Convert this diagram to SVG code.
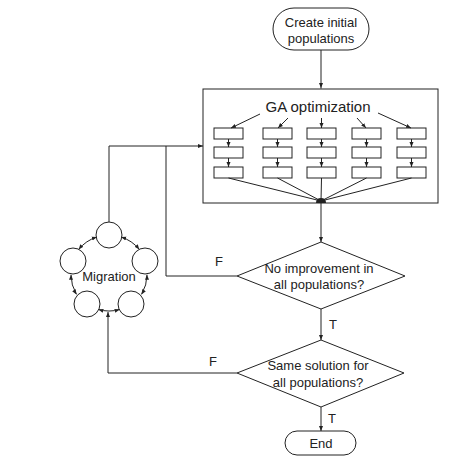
<svg xmlns="http://www.w3.org/2000/svg" width="474" height="474" viewBox="0 0 474 474">
<defs>
<marker id="ah" viewBox="0 0 10 10" refX="10" refY="5" markerWidth="5" markerHeight="5" orient="auto-start-reverse" markerUnits="userSpaceOnUse">
<path d="M0,1 L10,5 L0,9 Z" fill="#222"/>
</marker>
<style>
.s{fill:none;stroke:#222;stroke-width:1}
.b{fill:#fff;stroke:#222;stroke-width:1}
.t{font-family:"Liberation Sans",Arial,sans-serif;font-size:13px;fill:#222;text-anchor:middle}
.a{fill:none;stroke:#222;stroke-width:1;marker-end:url(#ah)}
.d{fill:none;stroke:#222;stroke-width:1;marker-start:url(#ah);marker-end:url(#ah)}
</style>
</defs>
<rect width="474" height="474" fill="#fff"/>

<g id="connectors">
<line class="a" x1="321" y1="50" x2="321" y2="88"/>
<path class="s" d="M321,89 L311,93 M321,89 L316,94 M321,89 L326,94 M321,89 L331,93"/>
<line class="s" x1="321" y1="203" x2="321" y2="236"/>
<line class="a" x1="321" y1="236" x2="321" y2="242"/>
<line class="a" x1="321" y1="309" x2="321" y2="340"/>
<line class="a" x1="321" y1="407" x2="321" y2="431"/>
<polyline class="s" points="237,276 166,276 166,146"/>
<polyline class="a" points="109,222 109,146 203,146"/>
<polyline class="a" points="237,373 108,373 108,312"/>
</g>

<g id="start">
<rect class="b" x="273" y="8" width="96" height="42" rx="21"/>
<text class="t" x="321" y="27">Create initial</text>
<text class="t" x="321" y="43">populations</text>
</g>

<g id="ga">
<rect class="b" x="203" y="89" width="235" height="114"/>
<text class="t" x="318" y="112" style="font-size:15px">GA optimization</text>
<g class="b">
<rect x="214" y="128" width="29" height="11"/><rect x="214" y="147" width="29" height="11"/><rect x="214" y="167" width="29" height="11"/>
<rect x="263" y="128" width="29" height="11"/><rect x="263" y="147" width="29" height="11"/><rect x="263" y="167" width="29" height="11"/>
<rect x="307" y="128" width="29" height="11"/><rect x="307" y="147" width="29" height="11"/><rect x="307" y="167" width="29" height="11"/>
<rect x="352" y="128" width="29" height="11"/><rect x="352" y="147" width="29" height="11"/><rect x="352" y="167" width="29" height="11"/>
<rect x="397" y="128" width="29" height="11"/><rect x="397" y="147" width="29" height="11"/><rect x="397" y="167" width="29" height="11"/>
</g>
<g class="a">
<line x1="260" y1="114" x2="231" y2="128"/>
<line x1="288" y1="118" x2="278" y2="128"/>
<line x1="321.5" y1="118" x2="321.5" y2="128"/>
<line x1="357" y1="118" x2="366" y2="128"/>
<line x1="378" y1="113" x2="411" y2="128"/>
<line x1="228.5" y1="139" x2="228.5" y2="147"/><line x1="228.5" y1="158" x2="228.5" y2="167"/>
<line x1="277.5" y1="139" x2="277.5" y2="147"/><line x1="277.5" y1="158" x2="277.5" y2="167"/>
<line x1="321.5" y1="139" x2="321.5" y2="147"/><line x1="321.5" y1="158" x2="321.5" y2="167"/>
<line x1="366.5" y1="139" x2="366.5" y2="147"/><line x1="366.5" y1="158" x2="366.5" y2="167"/>
<line x1="411.5" y1="139" x2="411.5" y2="147"/><line x1="411.5" y1="158" x2="411.5" y2="167"/>
</g>
<g class="s">
<line x1="228.5" y1="178" x2="321" y2="201"/>
<line x1="277.5" y1="178" x2="321" y2="201"/>
<line x1="321.5" y1="178" x2="321" y2="201"/>
<line x1="366.5" y1="178" x2="321" y2="201"/>
<line x1="411.5" y1="178" x2="321" y2="201"/>
</g>
<path d="M316,203 Q316,198 321,198 Q326,198 326,203 Z" fill="#222"/>
</g>

<g id="decision1">
<polygon class="b" points="321,242 405,276 321,309 237,276"/>
<text class="t" x="319" y="273">No improvement in</text>
<text class="t" x="319" y="289">all populations?</text>
<text class="t" x="219" y="266">F</text>
<text class="t" x="333" y="329">T</text>
</g>

<g id="decision2">
<polygon class="b" points="321,340 404,373 321,407 237,373"/>
<text class="t" x="318" y="370">Same solution for</text>
<text class="t" x="318" y="387">all populations?</text>
<text class="t" x="213" y="366">F</text>
<text class="t" x="332" y="423">T</text>
</g>

<g id="end">
<rect class="b" x="285" y="431" width="71" height="24" rx="12"/>
<text class="t" x="321" y="448">End</text>
</g>

<g id="migration">
<circle class="b" cx="109" cy="235" r="13"/>
<circle class="b" cx="73" cy="261" r="13"/>
<circle class="b" cx="145" cy="261" r="13"/>
<circle class="b" cx="87" cy="304" r="13"/>
<circle class="b" cx="131" cy="304" r="13"/>
<g class="d">
<path d="M96.8,237.1 A38,38 0 0 0 78.7,249.4"/>
<path d="M121.2,237.1 A38,38 0 0 1 139.3,249.4"/>
<path d="M71.0,274.7 A38,38 0 0 0 76.5,294.4"/>
<path d="M147.0,274.7 A38,38 0 0 1 141.5,294.4"/>
<path d="M98.4,309.5 A38,38 0 0 0 119.6,309.5"/>
</g>
<text class="t" x="109" y="281">Migration</text>
</g>
</svg>
